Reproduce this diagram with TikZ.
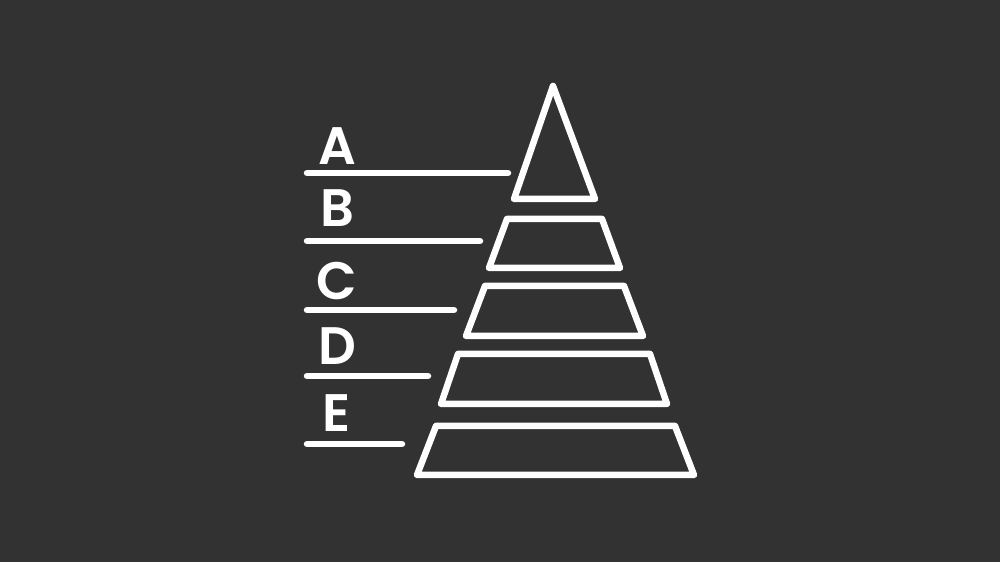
\documentclass[tikz,border=0pt]{standalone}
\usepackage{fontspec}
\setmainfont{Poppins}[BoldFont={Poppins SemiBold}]
\usetikzlibrary{positioning}
\definecolor{board}{HTML}{333233}

\begin{document}
\begin{tikzpicture}[x=0.01cm, y=-0.01cm,
  letter/.style={text=white, font=\bfseries\fontsize{15}{15}\selectfont, anchor=base, inner sep=0pt},
  rungline/.style={draw=white, line width=0.065cm, line cap=round},
  layer/.style={draw=white, line width=0.065cm, line join=round}]
  \fill [board] (0,0) rectangle (1000,562);
  \useasboundingbox (0,0) rectangle (1000,562);

  % letters
  \node (A) [letter] at (337,165) {A};
  \node (B) [letter] at (337,227) {B};
  \node (C) [letter] at (337,300) {C};
  \node (D) [letter] at (337,365) {D};
  \node (E) [letter] at (337,432) {E};

  % lines under the letters
  \coordinate (A0) at (307,173); \coordinate (A1) at (508,173);
  \coordinate (B0) at (307,241); \coordinate (B1) at (480,241);
  \coordinate (C0) at (307,310); \coordinate (C1) at (454,310);
  \coordinate (D0) at (307,376); \coordinate (D1) at (428,376);
  \coordinate (E0) at (307,444); \coordinate (E1) at (402,444);
  \draw [rungline] (A0) -- (A1);
  \draw [rungline] (B0) -- (B1);
  \draw [rungline] (C0) -- (C1);
  \draw [rungline] (D0) -- (D1);
  \draw [rungline] (E0) -- (E1);

  % pyramid
  \draw [layer] (553,86) -- (595,199) -- (514,199) -- cycle;
  \draw [layer] (507,219) -- (602,219) -- (620,268) -- (489,268) -- cycle;
  \draw [layer] (485,286) -- (624,286) -- (643,336) -- (466,336) -- cycle;
  \draw [layer] (458,354) -- (650,354) -- (667,404) -- (441,404) -- cycle;
  \draw [layer] (436,426) -- (675,426) -- (694,475) -- (417,475) -- cycle;
\end{tikzpicture}
\end{document}
